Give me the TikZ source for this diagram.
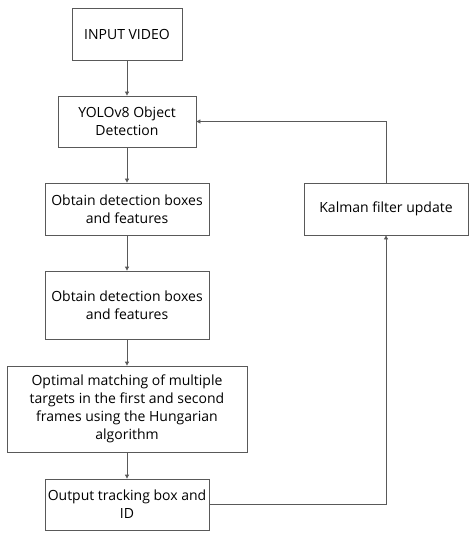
\documentclass[tikz,border=0pt]{standalone}
\usepackage{fontspec}
\setmainfont{Open Sans}
\usetikzlibrary{arrows.meta}

\begin{document}
\begin{tikzpicture}[
    x = 1pt, y = -1pt,
    line width = 0.8pt,
    draw = black!65,
    %
    stage/.style = {draw, black!65,
      text = black,
      align = center,
      font = \fontsize{14}{18}\selectfont,
      inner sep = 2pt,
      minimum height = {52pt}},
    %
    flow/.style = {black!65, -{Triangle[length = 4pt, width = 4pt]}},
    ]

    \useasboundingbox (0, 0) rectangle (474, 537);

    \node at (127, 34)
    [stage, minimum width = {110pt}, name = input] {INPUT VIDEO};
    \node at (127, 121.5)
    [stage, minimum width = {138pt}, minimum height = {51pt}, name = yolo]
    {YOLOv8 Object\\Detection};

    \node at (127, 209)
    [stage, minimum width = {164pt}, name = boxesA]
    {Obtain detection boxes\\and features};
    \node at (386, 209)
    [stage, minimum width = {164pt}, name = kalman] {Kalman filter update};

    \node at (127, 305)
    [stage, minimum width = {164pt}, minimum height = {68pt}, name = boxesB]
    {Obtain detection boxes\\and features};

    \node at (127, 409)
    [stage, minimum width = {240pt}, minimum height = {86pt}, name = match]
    {Optimal matching of multiple\\targets in the first and second\\frames using the Hungarian\\algorithm};

    \node at (127, 504.5)
    [stage, minimum width = {164pt}, minimum height = {51pt}, name = output]
    {Output tracking box and\\ID};

    \draw [flow] (input) -- (yolo);

    \draw [flow] (yolo) -- (boxesA);

    \draw [flow] (boxesA) -- (boxesB);

    \draw [flow] (boxesB) -- (match);

    \draw [flow] (match) -- (output);

    \draw [flow] (output.east) -| (kalman.south);

    \draw [flow] (kalman.north) |- (yolo.east);

  \end{tikzpicture}
\end{document}
